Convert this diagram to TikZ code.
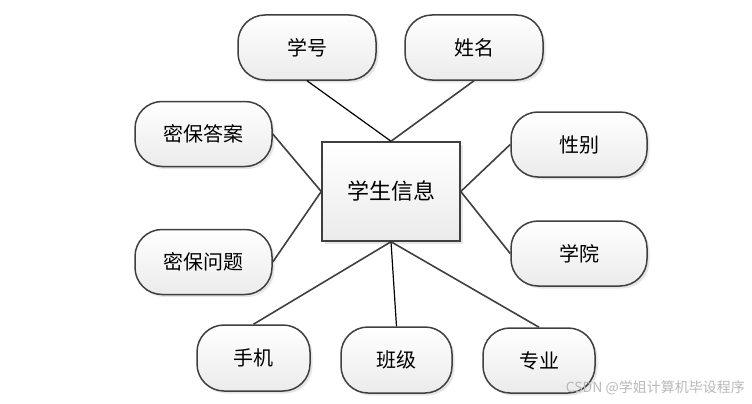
\documentclass[tikz,border=0pt]{standalone}
\usepackage{fontspec}
\setmainfont{Noto Sans CJK SC}
\usepackage{tikz}
\usetikzlibrary{shadows}
\definecolor{erline}{HTML}{3F3F3F}
\definecolor{erfill}{HTML}{EBEBEB}
\definecolor{ermark}{HTML}{B8B8B8}

\tikzset{
  attrbox/.style={draw=erline, line width=1.5pt, top color=white, bottom color=erfill,
    minimum width=138pt, minimum height=65pt, rounded corners=27pt, inner sep=1pt,
    drop shadow={shadow xshift=2.5pt, shadow yshift=-2.5pt, opacity=0.2},
    font=\fontsize{20}{24}\selectfont},
  entitybox/.style={draw=erline, line width=1.5pt, top color=white, bottom color=erfill,
    minimum width=138pt, minimum height=99pt, inner sep=1pt,
    drop shadow={shadow xshift=2.5pt, shadow yshift=-2.5pt, opacity=0.2},
    font=\fontsize{22}{26}\selectfont},
  link/.style={draw=erline, line width=1.6pt},
  thinlink/.style={draw=black, line width=1.2pt}
}

\begin{document}
\begin{tikzpicture}[x=1pt, y=-1pt]
  \useasboundingbox (0,0) rectangle (752,404);
  \node[entitybox] (stu) at (391,191.5) {学生信息};
  \node[attrbox] (xuehao) at (307,47.5) {学号};
  \node[attrbox] (xingming) at (474,47.5) {姓名};
  \node[attrbox, minimum width=136pt] (xingbie) at (579,144.5) {性别};
  \node[attrbox, minimum width=136pt] (xueyuan) at (579,253.5) {学院};
  \node[attrbox, minimum width=137pt] (mbda) at (203.5,134) {密保答案};
  \node[attrbox, minimum width=137pt] (mbwt) at (203.5,262) {密保问题};
  \node[attrbox, minimum width=113pt, minimum height=66pt] (shouji) at (253.5,358) {手机};
  \node[attrbox, minimum width=111pt, minimum height=66pt] (banji) at (396.5,360) {班级};
  \node[attrbox, minimum width=112pt, minimum height=65pt] (zhuanye) at (539,360.5) {专业};
  % connectors
  \draw[thinlink] (xuehao.south) -- (stu.north);
  \draw[link] (xingming.south) -- (stu.north);
  \draw[link] (xingbie.west) -- (stu.east);
  \draw[link] (xueyuan.west) -- (stu.east);
  \draw[link] (mbda.east) -- (stu.west);
  \draw[link] (mbwt.east) -- (stu.west);
  \draw[link] (shouji.north) -- (stu.south);
  \draw[thinlink] (banji.north) -- (stu.south);
  \draw[link] (zhuanye.north) -- (stu.south);
  \node[text=ermark, font=\fontsize{14}{16}\selectfont, anchor=east, inner sep=0pt] (mark) at (745,388) {CSDN @学姐计算机毕设程序};
\end{tikzpicture}
\end{document}
